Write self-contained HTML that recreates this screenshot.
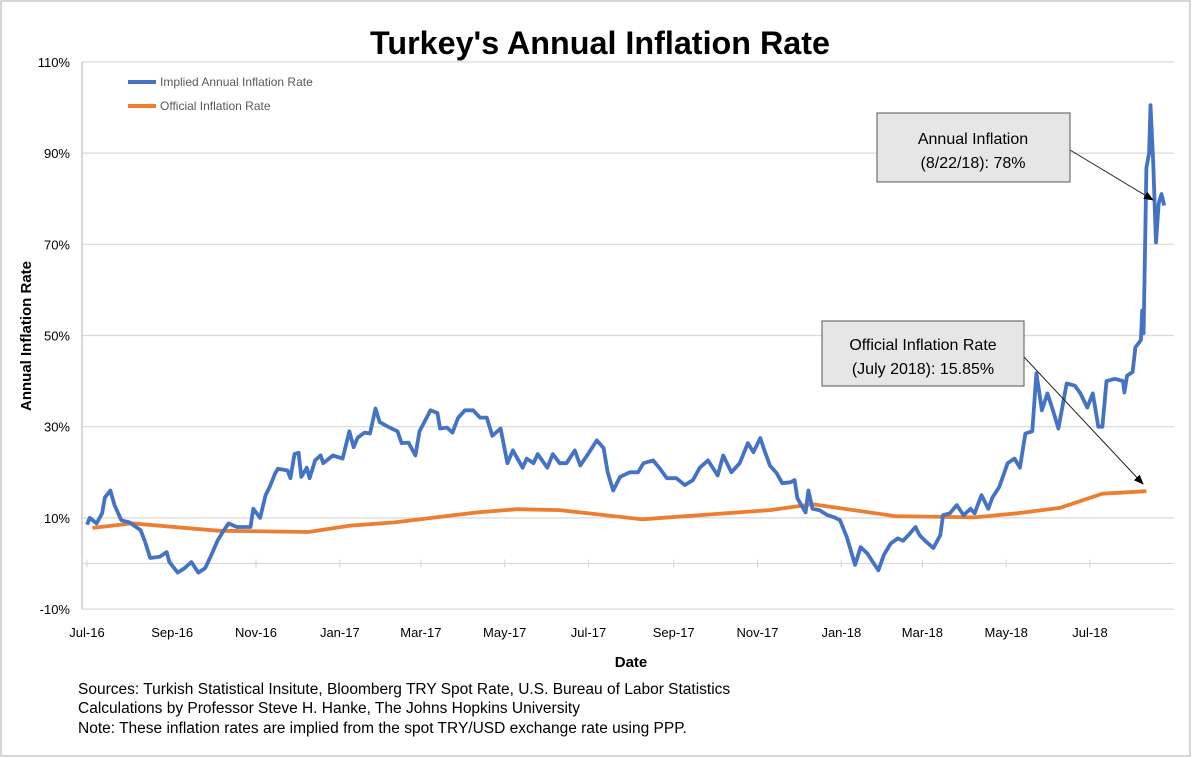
<!DOCTYPE html>
<html><head><meta charset="utf-8">
<style>
body{margin:0;background:#fff;}
svg{display:block;font-family:"Liberation Sans",Arial,sans-serif;}
</style></head>
<body>
<svg id="chart" width="1200" height="758" viewBox="0 0 1200 758">
<rect x="1" y="1" width="1189" height="755" fill="#fff" stroke="#c8c8c8" stroke-width="1.5"/>
<text x="600" y="54" text-anchor="middle" font-size="32" font-weight="bold" fill="#000" textLength="460" lengthAdjust="spacingAndGlyphs">Turkey's Annual Inflation Rate</text>
<g id="grid"></g>
<g id="axes"></g>
<g id="series"></g>
<line x1="128" y1="82" x2="156" y2="82" stroke="#4472c4" stroke-width="4"/>
<text x="160" y="86" font-size="12" fill="#595959">Implied Annual Inflation Rate</text>
<line x1="128" y1="106" x2="156" y2="106" stroke="#ed7d31" stroke-width="4"/>
<text x="160" y="110" font-size="12" fill="#595959">Official Inflation Rate</text>
<text transform="translate(31,336) rotate(-90)" text-anchor="middle" font-size="15" font-weight="bold" fill="#000">Annual Inflation Rate</text>
<text x="631" y="667" text-anchor="middle" font-size="15" font-weight="bold" fill="#000">Date</text>
<g font-size="15.5" fill="#000">
<text x="78" y="694">Sources: Turkish Statistical Insitute, Bloomberg TRY Spot Rate, U.S. Bureau of Labor Statistics</text>
<text x="78" y="713">Calculations by Professor Steve H. Hanke, The Johns Hopkins University</text>
<text x="78" y="733">Note: These inflation rates are implied from the spot TRY/USD exchange rate using PPP.</text>
</g>
<defs><marker id="ah" markerWidth="10" markerHeight="8" refX="9" refY="4" orient="auto"><path d="M0,0 L10,4 L0,8 z" fill="#000"/></marker></defs>
<line x1="1070" y1="150" x2="1153" y2="200" stroke="#222" stroke-width="1" marker-end="url(#ah)"/>
<line x1="1024" y1="357" x2="1143" y2="484" stroke="#222" stroke-width="1" marker-end="url(#ah)"/>
<g>
<rect x="877" y="113" width="193" height="69" fill="#e6e6e6" stroke="#555" stroke-width="1"/>
<text x="973" y="144" text-anchor="middle" font-size="16" fill="#000">Annual Inflation</text>
<text x="973" y="168" text-anchor="middle" font-size="16" fill="#000">(8/22/18): 78%</text>
</g>
<g>
<rect x="822" y="321" width="202" height="65" fill="#e6e6e6" stroke="#555" stroke-width="1"/>
<text x="923" y="350" text-anchor="middle" font-size="16" fill="#000">Official Inflation Rate</text>
<text x="923" y="374" text-anchor="middle" font-size="16" fill="#000">(July 2018): 15.85%</text>
</g>
</svg>
<script>
const yTicks=[-10,10,30,50,70,90,110];
const xTickLabels=["Jul-16","Sep-16","Nov-16","Jan-17","Mar-17","May-17","Jul-17","Sep-17","Nov-17","Jan-18","Mar-18","May-18","Jul-18"];
const xTickDays=[0,62,123,184,243,304,365,427,488,549,608,669,730];
const impliedDays=[0,2,7,11,13,17,20,25,31,39,42,46,53,58,60,66,71,76,81,86,91,95,99,103,109,119,121,126,130,133,137,139,146,148,151,154,156,160,162,166,170,172,179,186,191,194,197,202,206,210,213,219,226,229,234,239,242,245,250,255,257,262,266,270,275,281,286,291,295,301,306,310,317,320,325,328,335,339,344,349,355,359,364,371,376,379,383,388,395,401,405,412,417,422,429,435,441,446,452,459,463,469,475,481,485,490,493,497,502,506,512,515,517,523,525,528,533,539,544,548,553,559,563,568,572,576,580,585,590,594,599,603,606,611,616,621,623,628,633,638,643,646,651,656,659,664,670,675,679,683,688,691,695,699,703,707,713,719,723,728,732,736,739,742,748,754,755,757,761,763,767,768,769,771,773,774,776,777,778,780,782,784];
const impliedValues=[8.5,10,8.8,11,14.5,16,12.8,9.5,9,7.3,5,1.2,1.5,2.5,0.3,-2,-1,0.3,-2,-1,2.2,5,7,8.8,8,8,12,10,15,16.8,19.8,20.8,20.4,18.7,24,24.3,19,21,18.7,22.6,23.7,22,23.7,23,29,25.5,27.6,28.7,28.5,34,31,30,29,26.4,26.5,23.7,29,30.7,33.6,33,29.6,29.8,28.7,31.9,33.6,33.6,32,32,28,29.6,22,24.8,21,23,22,24,21,24,22,22,24.8,21.5,23.7,27,25.3,20,16,19,20,20,22,22.6,20.8,18.7,18.7,17.2,18.3,21,22.6,19.3,23.7,20,22,26.4,24.4,27.5,24.8,21.5,19.8,17.6,17.8,18.3,14.3,11.2,16,12,11.7,10.6,10.1,9.5,5.8,-0.3,3.6,2.2,0.3,-1.5,1.9,4.4,5.5,5,6.6,8,6.2,4.7,3.4,6.2,10.6,11,12.8,10.6,12,11,15,12,14.5,16.8,22,23,21,28.5,29,41.7,33.6,37.3,33.6,29.6,39.5,39,37.3,34.2,37.3,30,30,40,40.5,40,37.5,41.2,42,47.4,49,55.5,50.5,86.8,90,100.5,88,79,70.4,79,81,78.5];
const officialDays=[4,33,95,161,191,223,284,313,344,404,497,528,588,646,677,708,739,771];
const officialValues=[7.8,8.8,7.2,6.9,8.3,9,11.2,11.9,11.7,9.7,11.7,13,10.4,10.1,11,12.2,15.3,15.85];

const NS="http://www.w3.org/2000/svg";
const X0=87,PXD=1.374,Y0=563.5,PXP=4.56,LEFT=82,RIGHT=1174;
function xs(d){return X0+d*PXD;}
function ys(v){return Y0-v*PXP;}
function mk(tag,attrs,parent){const e=document.createElementNS(NS,tag);for(const k in attrs)e.setAttribute(k,attrs[k]);parent.appendChild(e);return e;}
const grid=document.getElementById('grid'),axes=document.getElementById('axes'),series=document.getElementById('series');
yTicks.forEach(v=>{
  const l=mk('line',{x1:LEFT,x2:RIGHT,y1:ys(v),y2:ys(v),stroke:'#d9d9d9','stroke-width':1.2},grid);
  
  
  const t=mk('text',{x:70,y:ys(v)+5,'text-anchor':'end','font-size':13,fill:'#000'},axes);
  t.textContent=v+'%';
  
  
});
const ya=mk('line',{x1:LEFT,x2:LEFT,y1:ys(110),y2:ys(-10),stroke:'#bfbfbf','stroke-width':1.2},axes);


const xa=mk('line',{x1:LEFT,x2:RIGHT,y1:ys(0),y2:ys(0),stroke:'#d9d9d9','stroke-width':1.2},axes);


xTickLabels.forEach((s,i)=>{
  const x=xs(xTickDays[i]);
  const tk=mk('line',{x1:x,x2:x,y1:ys(0)-4,y2:ys(0)+4,stroke:'#d9d9d9','stroke-width':1.2},axes);
  
  
  const t=mk('text',{x:x,y:637,'text-anchor':'middle','font-size':13,fill:'#000'},axes);
  t.textContent=s;
  
  
});
function path(days,vals){return days.map((d,i)=>(i?'L':'M')+xs(d).toFixed(1)+','+ys(vals[i]).toFixed(1)).join(' ');}
const op=mk('path',{d:path(officialDays,officialValues),fill:'none',stroke:'#ed7d31','stroke-width':3.8,'stroke-linejoin':'round'},series);


const ip=mk('path',{d:path(impliedDays,impliedValues),fill:'none',stroke:'#4472c4','stroke-width':3.8,'stroke-linejoin':'round'},series);


</script>
</body></html>
